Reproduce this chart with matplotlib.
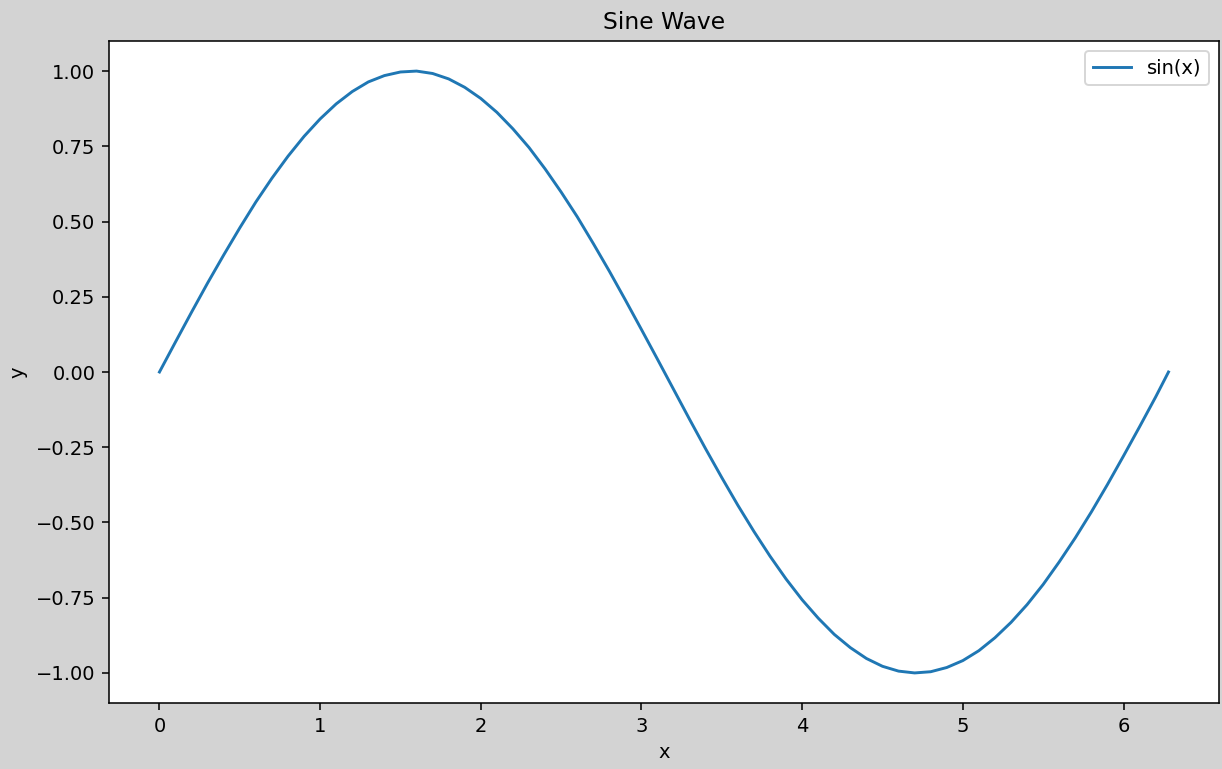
import matplotlib
matplotlib.use('Agg')
import matplotlib.pyplot as plt

# values
x_vals = [0.0, 0.1, 0.2, 0.3, 0.4, 0.5, 0.6, 0.7, 0.8, 0.9,
          1.0, 1.1, 1.2, 1.3, 1.4, 1.5, 1.6, 1.7, 1.8, 1.9,
          2.0, 2.1, 2.2, 2.3, 2.4, 2.5, 2.6, 2.7, 2.8, 2.9,
          3.0, 3.1, 3.2, 3.3, 3.4, 3.5, 3.6, 3.7, 3.8, 3.9,
          4.0, 4.1, 4.2, 4.3, 4.4, 4.5, 4.6, 4.7, 4.8, 4.9,
          5.0, 5.1, 5.2, 5.3, 5.4, 5.5, 5.6, 5.7, 5.8, 5.9,
          6.0, 6.1, 6.2, 6.28]
y_vals = [0.000, 0.100, 0.199, 0.296, 0.389, 0.479, 0.565, 0.644, 0.717, 0.783,
          0.841, 0.891, 0.932, 0.964, 0.985, 0.997, 1.000, 0.992, 0.974, 0.946,
          0.909, 0.863, 0.808, 0.746, 0.675, 0.598, 0.516, 0.427, 0.335, 0.239,
          0.141, 0.042, -0.058, -0.158, -0.256, -0.351, -0.443, -0.530, -0.612, -0.688,
          -0.757, -0.818, -0.872, -0.916, -0.952, -0.978, -0.994, -1.000, -0.996, -0.982,
          -0.959, -0.926, -0.883, -0.832, -0.773, -0.706, -0.631, -0.551, -0.465, -0.374,
          -0.279, -0.182, -0.083, 0.000]

fig, ax = plt.subplots(figsize=(1222 / 140, 769 / 140), dpi=140)
fig.patch.set_facecolor('lightgray')
fig.subplots_adjust(left=0.0892, right=0.9975, bottom=0.0858, top=0.9467)

ax.plot(x_vals, y_vals, label='sin(x)')
ax.set_title('Sine Wave', fontsize=12)
ax.set_xlabel('x')
ax.set_ylabel('y')
ax.legend(loc='upper right')

plt.savefig('out.png', facecolor=fig.get_facecolor())
